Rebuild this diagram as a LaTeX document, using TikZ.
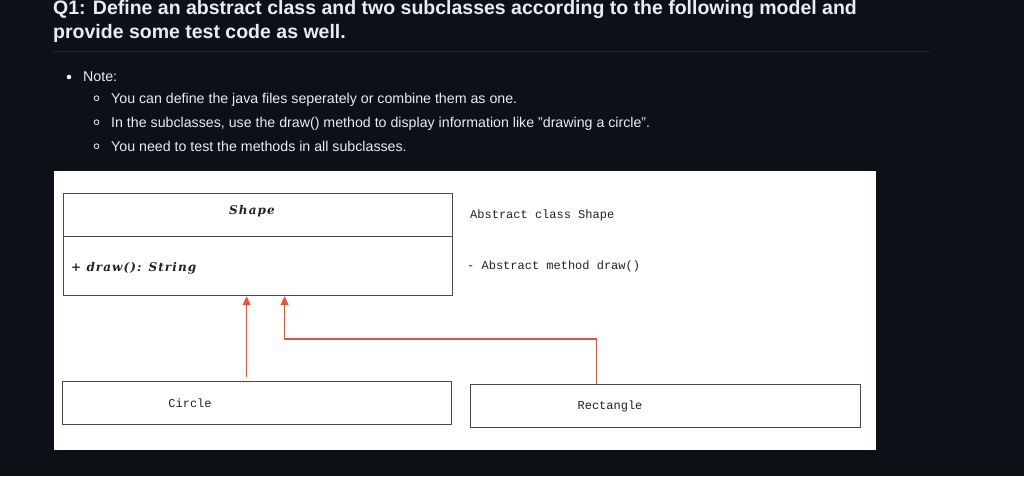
\documentclass[tikz,border=0pt]{standalone}
\usepackage{fontspec}
\setmainfont{Liberation Sans}
\newfontfamily\monof{Liberation Mono}
\newfontfamily\umlf[LetterSpace=9]{DejaVu Serif}
\usetikzlibrary{arrows.meta}
\definecolor{bg}{HTML}{0D1117}
\definecolor{fg}{HTML}{E6EDF3}
\definecolor{rulec}{HTML}{21262D}
\definecolor{umlline}{HTML}{4A4A4A}
\definecolor{arr}{HTML}{E5533D}
\definecolor{txt}{HTML}{222222}
\tikzset{
  title/.style={anchor=base west, inner sep=0pt, text=fg, font=\bfseries\fontsize{19.5}{24}\selectfont},
  item/.style={anchor=base west, inner sep=0pt, text=fg, font=\fontsize{14.2}{17}\selectfont},
  umlbox/.style={draw=umlline, line width=1.2pt, fill=white, anchor=north west, inner sep=0pt},
  umltxt/.style={inner sep=0pt, text=txt, font=\umlf\bfseries\itshape\fontsize{12}{14}\selectfont},
  monotxt/.style={inner sep=0pt, text=txt, font=\monof\fontsize{12}{14}\selectfont},
  conn/.style={draw=arr, line width=1.5pt, -{Triangle[length=9pt,width=8pt]}}
}
\begin{document}
\begin{tikzpicture}[x=1pt,y=-1pt]
\fill[bg] (0,0) rectangle (1024,476);
\useasboundingbox (0,0) rectangle (1024,476);
% header
\node[title] (t1) at (53,15) {Q1: Define an abstract class and two subclasses according to the following model and};
\node[title] (t2) at (53,39) {provide some test code as well.};
\draw[rulec, line width=1pt] (53,52) -- (930,52);
\fill[fg] (69,77) circle (2.3);
\node[item] (note) at (83,82) {Note:};
\foreach \yy/\tx/\nm in {
  103/{You can define the java files seperately or combine them as one.}/i1,
  127/{In the subclasses, use the draw() method to display information like "drawing a circle".}/i2,
  151/{You need to test the methods in all subclasses.}/i3} {
  \draw[fg, line width=0.8pt] (96.5,\yy-4.8) circle (2.4);
  \node[item] (\nm) at (111,\yy) {\tx};
}
% panel
\fill[white] (54,171) rectangle (876,450);
% UML
\node[umlbox, minimum width=389pt, minimum height=43pt] (shapehead) at (63,193) {};
\node[umlbox, minimum width=389pt, minimum height=59pt] (shapebody) at (63,236) {};
\node[umltxt] (shapename) at (252,211) {Shape};
\node[umltxt, anchor=west] (drawm) at (71,268) {+ draw(): String};
\node[monotxt, anchor=base west] (abs1) at (470,218) {Abstract class Shape};
\node[monotxt, anchor=base west] (abs2) at (467,269) {- Abstract method draw()};
\node[umlbox, minimum width=389pt, minimum height=43pt] (circlebox) at (62,381) {};
\node[umlbox, minimum width=390pt, minimum height=43pt] (rectbox) at (470,384) {};
\node[monotxt] (circlelbl) at (190,403) {Circle};
\node[monotxt] (rectlbl) at (610,406) {Rectangle};
% connectors
\draw[conn] ([xshift=-10.5pt,yshift=4pt]circlebox.north) -- ([xshift=-11.5pt]shapebody.south);
\draw[conn] ([xshift=-69pt]rectbox.north) -- ++(0,-45) -| ([xshift=26.5pt]shapebody.south);
\end{tikzpicture}
\end{document}
